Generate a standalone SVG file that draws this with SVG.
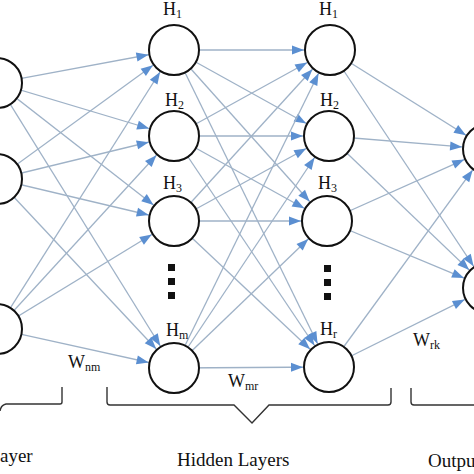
<svg xmlns="http://www.w3.org/2000/svg" width="474" height="474" viewBox="0 0 474 474">
<style>
.n{fill:#fff;stroke:#111;stroke-width:2}
.c{stroke:#9fb2c7;stroke-width:1.3;fill:none;marker-end:url(#ah)}
.t{font-family:"Liberation Serif",serif;font-size:18px;fill:#111}
.s{font-size:12px}
.b{fill:none;stroke:#333;stroke-width:1.4}
.d{fill:#111}
.lbl{font-family:"Liberation Serif",serif;font-size:19px;fill:#111}
</style>
<defs>
<marker id="ah" markerUnits="userSpaceOnUse" markerWidth="1" markerHeight="1" refX="0" refY="0" orient="auto" overflow="visible">
<path d="M-26,0 L-38,-4.5 L-38,4.5 z" fill="#5b8fd1"/>
</marker>
</defs>
<rect width="474" height="474" fill="#fff"/>
<g id="connectors">
<line class="c" x1="-3" y1="83" x2="174" y2="50"/>
<line class="c" x1="-3" y1="83" x2="174" y2="136"/>
<line class="c" x1="-3" y1="83" x2="174" y2="221"/>
<line class="c" x1="-3" y1="83" x2="174" y2="368"/>
<line class="c" x1="-3" y1="179" x2="174" y2="50"/>
<line class="c" x1="-3" y1="179" x2="174" y2="136"/>
<line class="c" x1="-3" y1="179" x2="174" y2="221"/>
<line class="c" x1="-3" y1="179" x2="174" y2="368"/>
<line class="c" x1="-3" y1="329" x2="174" y2="50"/>
<line class="c" x1="-3" y1="329" x2="174" y2="136"/>
<line class="c" x1="-3" y1="329" x2="174" y2="221"/>
<line class="c" x1="-3" y1="329" x2="174" y2="368"/>
<line class="c" x1="174" y1="50" x2="330" y2="50"/>
<line class="c" x1="174" y1="50" x2="329" y2="136"/>
<line class="c" x1="174" y1="50" x2="327" y2="221"/>
<line class="c" x1="174" y1="50" x2="329" y2="367"/>
<line class="c" x1="174" y1="136" x2="330" y2="50"/>
<line class="c" x1="174" y1="136" x2="329" y2="136"/>
<line class="c" x1="174" y1="136" x2="327" y2="221"/>
<line class="c" x1="174" y1="136" x2="329" y2="367"/>
<line class="c" x1="174" y1="221" x2="330" y2="50"/>
<line class="c" x1="174" y1="221" x2="329" y2="136"/>
<line class="c" x1="174" y1="221" x2="327" y2="221"/>
<line class="c" x1="174" y1="221" x2="329" y2="367"/>
<line class="c" x1="174" y1="368" x2="330" y2="50"/>
<line class="c" x1="174" y1="368" x2="329" y2="136"/>
<line class="c" x1="174" y1="368" x2="327" y2="221"/>
<line class="c" x1="174" y1="368" x2="329" y2="367"/>
<line class="c" x1="330" y1="50" x2="488" y2="149"/>
<line class="c" x1="330" y1="50" x2="488" y2="288"/>
<line class="c" x1="329" y1="136" x2="488" y2="149"/>
<line class="c" x1="329" y1="136" x2="488" y2="288"/>
<line class="c" x1="327" y1="221" x2="488" y2="149"/>
<line class="c" x1="327" y1="221" x2="488" y2="288"/>
<line class="c" x1="329" y1="367" x2="488" y2="149"/>
<line class="c" x1="329" y1="367" x2="488" y2="288"/>
</g>
<g id="in1"><circle class="n" cx="-3" cy="83" r="25"/></g>
<g id="in2"><circle class="n" cx="-3" cy="179" r="25"/></g>
<g id="in3"><circle class="n" cx="-3" cy="329" r="25"/></g>
<g id="h1_1"><circle class="n" cx="174" cy="50" r="25"/><text class="t" x="163" y="15">H<tspan class="s" dy="3">1</tspan></text></g>
<g id="h1_2"><circle class="n" cx="174" cy="136" r="25"/><text class="t" x="165" y="106">H<tspan class="s" dy="3">2</tspan></text></g>
<g id="h1_3"><circle class="n" cx="174" cy="221" r="25"/><text class="t" x="163" y="189">H<tspan class="s" dy="3">3</tspan></text></g>
<g id="h1_dots"><rect class="d" x="168" y="264" width="7" height="7"/><rect class="d" x="168" y="278" width="7" height="7"/><rect class="d" x="168" y="292" width="7" height="7"/></g>
<g id="h1_m"><circle class="n" cx="174" cy="368" r="25"/><text class="t" x="166" y="336">H<tspan class="s" dy="3">m</tspan></text></g>
<g id="h2_1"><circle class="n" cx="330" cy="50" r="25"/><text class="t" x="319" y="15">H<tspan class="s" dy="3">1</tspan></text></g>
<g id="h2_2"><circle class="n" cx="329" cy="136" r="25"/><text class="t" x="320" y="106">H<tspan class="s" dy="3">2</tspan></text></g>
<g id="h2_3"><circle class="n" cx="327" cy="221" r="25"/><text class="t" x="318" y="189">H<tspan class="s" dy="3">3</tspan></text></g>
<g id="h2_dots"><rect class="d" x="324" y="265" width="7" height="7"/><rect class="d" x="324" y="279" width="7" height="7"/><rect class="d" x="324" y="293" width="7" height="7"/></g>
<g id="h2_r"><circle class="n" cx="329" cy="367" r="25"/><text class="t" x="320" y="335">H<tspan class="s" dy="3">r</tspan></text></g>
<g id="out1"><circle class="n" cx="488" cy="149" r="25"/></g>
<g id="out2"><circle class="n" cx="488" cy="288" r="25"/></g>
<g id="weights">
<text class="t" x="68" y="368">W<tspan class="s" dy="3">nm</tspan></text>
<text class="t" x="228" y="387">W<tspan class="s" dy="3">mr</tspan></text>
<text class="t" x="413" y="346">W<tspan class="s" dy="3">rk</tspan></text>
</g>
<g id="braces">
<path class="b" d="M62,387 L62,402 Q62,404 60,404 L6,404 Q1,405 0,411"/>
<path class="b" d="M107,387 L107,402 Q107,405 110,405 L234,405 L252,423 L269,405 L388,405 Q391,405 391,402 L391,388"/>
<path class="b" d="M411,388 L411,402 Q411,405 414,405 L474,405"/>
</g>
<g id="layer-labels">
<text class="lbl" x="0" y="462">ayer</text>
<text class="lbl" x="177" y="466">Hidden Layers</text>
<text class="lbl" x="428" y="467">Outpu</text>
</g>
</svg>
